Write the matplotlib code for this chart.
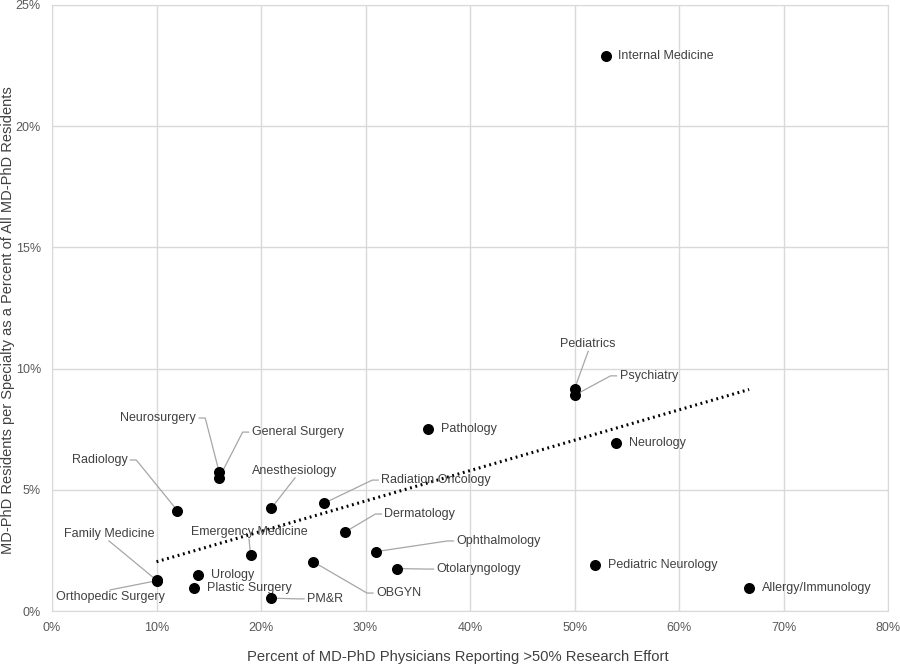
import numpy as np
import matplotlib
matplotlib.use("Agg")
from matplotlib import pyplot as plt
from matplotlib.ticker import PercentFormatter

plt.rcParams['font.family'] = ['Liberation Sans', 'DejaVu Sans']

# data, both axes in percent
specialties = ['Internal Medicine', 'Pediatrics', 'Psychiatry', 'Pathology', 'Neurology',
               'Neurosurgery', 'General Surgery', 'Radiology', 'Anesthesiology',
               'Radiation Oncology', 'Dermatology', 'Emergency Medicine', 'Ophthalmology',
               'Otolaryngology', 'OBGYN', 'Family Medicine', 'Orthopedic Surgery',
               'Urology', 'Plastic Surgery', 'PM&R', 'Pediatric Neurology',
               'Allergy/Immunology']
research_pct = [53, 50, 50, 36, 54,
                16, 16, 12, 21,
                26, 28, 19, 31,
                33, 25, 10, 10,
                14, 13.6, 21, 52,
                66.7]
resident_pct = [22.9, 9.17, 8.9, 7.52, 6.92,
                5.72, 5.5, 4.14, 4.25,
                4.44, 3.25, 2.3, 2.45,
                1.75, 2.03, 1.27, 1.25,
                1.48, 0.94, 0.53, 1.88,
                0.93]

# label placement: (x, y, ha) in data units; others get a plain label right of the point
label_pos = {
    'Pediatrics': (51.3, 11.0, 'center'),
    'Psychiatry': (54.3, 9.7, 'left'),
    'Neurosurgery': (13.8, 7.96, 'right'),
    'General Surgery': (19.1, 7.38, 'left'),
    'Radiology': (7.2, 6.23, 'right'),
    'Anesthesiology': (23.25, 5.78, 'center'),
    'Radiation Oncology': (31.5, 5.4, 'left'),
    'Dermatology': (31.8, 4.0, 'left'),
    'Emergency Medicine': (18.85, 3.26, 'center'),
    'Ophthalmology': (38.7, 2.89, 'left'),
    'Otolaryngology': (36.8, 1.73, 'left'),
    'OBGYN': (31.0, 0.74, 'left'),
    'Family Medicine': (5.45, 3.18, 'center'),
    'Orthopedic Surgery': (5.55, 0.58, 'center'),
    'PM&R': (24.4, 0.5, 'left'),
}

fig = plt.figure(figsize=(9, 6.65), dpi=100)
ax = fig.add_axes([0.0578, 0.0812, 0.929, 0.9113])

ax.scatter(research_pct, resident_pct, s=48, color='black', zorder=4)

# linear trendline like excel
x = np.array(research_pct)
y = np.array(resident_pct)
m, b = np.polyfit(x, y, 1)
xs = np.array([x.min(), x.max()])
ax.plot(xs, m * xs + b, color='black', lw=2.2, linestyle=(0, (0.6, 1.2)),
        dash_capstyle='butt', zorder=2)

ax.set_xlim(0, 80)
ax.set_ylim(0, 25)

txt_color = '#404040'
leaders = []
for name, xv, yv in zip(specialties, research_pct, resident_pct):
    if name in label_pos:
        tx, ty, ha = label_pos[name]
        t = ax.text(tx, ty, name, ha=ha, va='center', fontsize=9, color=txt_color, zorder=5)
        leaders.append((t, ha, xv, yv))
    else:
        ax.annotate(name, xy=(xv, yv), xytext=(9, 0), textcoords='offset points',
                    ha='left', va='center', fontsize=9, color=txt_color)

# leader lines with a short horizontal stub, excel style
fig.canvas.draw()
r = fig.canvas.get_renderer()
inv = ax.transData.inverted()
for t, ha, xv, yv in leaders:
    bb = t.get_window_extent(r)
    px, py = ax.transData.transform((xv, yv))
    if ha == 'left':
        pts = [(bb.x0 - 3, (bb.y0 + bb.y1) / 2), (bb.x0 - 9, (bb.y0 + bb.y1) / 2)]
    elif ha == 'right':
        pts = [(bb.x1 + 3, (bb.y0 + bb.y1) / 2), (bb.x1 + 9, (bb.y0 + bb.y1) / 2)]
    else:
        cx = (bb.x0 + bb.x1) / 2
        yy = bb.y0 - 1 if py < bb.y0 else bb.y1 + 1
        pts = [(cx, yy)]
    pts.append((px, py))
    d = inv.transform(pts)
    ax.plot(d[:, 0], d[:, 1], color='#a6a6a6', lw=0.9, zorder=3)

ax.set_xticks(np.arange(0, 81, 10))
ax.set_yticks(np.arange(0, 26, 5))
ax.xaxis.set_major_formatter(PercentFormatter(decimals=0))
ax.yaxis.set_major_formatter(PercentFormatter(decimals=0))
ax.tick_params(length=0, labelsize=9, labelcolor='#595959', pad=8)
ax.grid(True, color='#d9d9d9', lw=1)
ax.set_axisbelow(True)
for sp in ax.spines.values():
    sp.set_color('#d9d9d9')

fig.text(458 / 900, 1 - 657 / 665,
         'Percent of MD-PhD Physicians Reporting >50% Research Effort',
         ha='center', va='center', fontsize=10.6, color=txt_color)
fig.text(8 / 900, 1 - 320 / 665,
         'MD-PhD Residents per Specialty as a Percent of All MD-PhD Residents',
         ha='center', va='center', rotation=90, fontsize=10.5, color=txt_color)

fig.savefig('out.png', dpi=100)
